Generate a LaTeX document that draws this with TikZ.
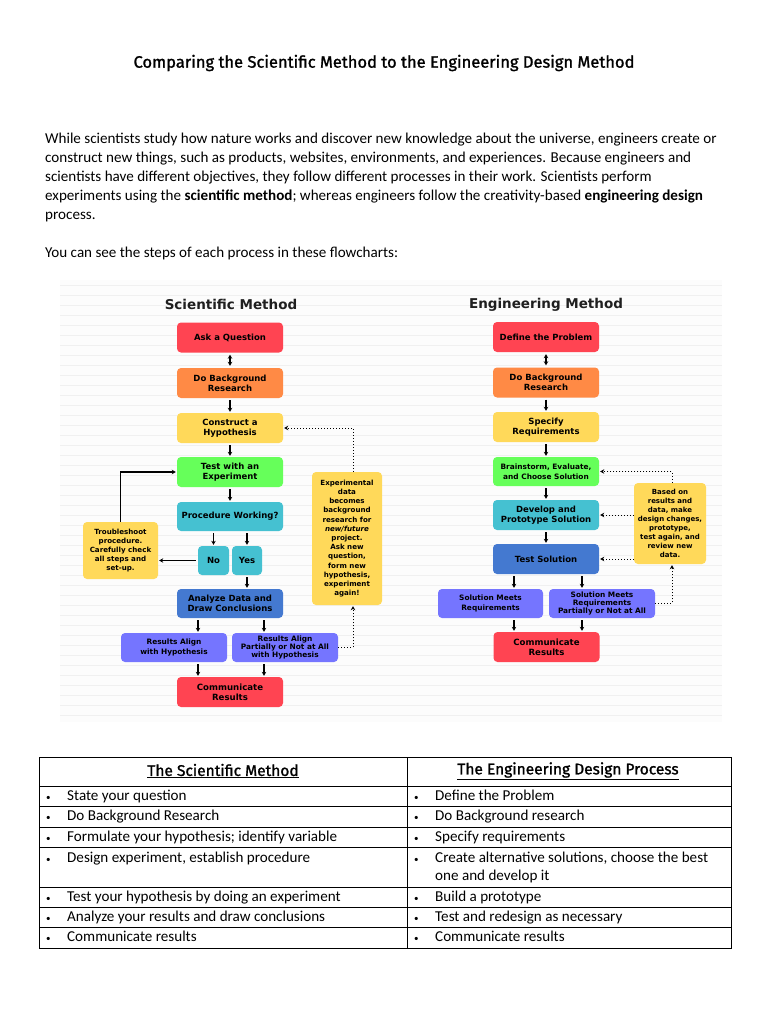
\documentclass[tikz,border=0pt]{standalone}
\usepackage{fontspec}
\setmainfont{Carlito}
\newfontfamily\verd{DejaVu Sans}
\newfontfamily\hand[FakeBold=1.3]{Fira Sans}
\usetikzlibrary{arrows.meta}
\definecolor{cred}{HTML}{FF4452}
\definecolor{corange}{HTML}{FF8A45}
\definecolor{cyellow}{HTML}{FFD95A}
\definecolor{cgreen}{HTML}{66FF5A}
\definecolor{cteal}{HTML}{45C1D1}
\definecolor{cblue}{HTML}{4479D0}
\definecolor{cpurple}{HTML}{7575FF}
\definecolor{bgline}{HTML}{F0F0F0}
\definecolor{bgfill}{HTML}{FCFCFC}
\tikzset{
  box/.style={rounded corners=4pt, align=center, inner sep=1pt, text=black,
    font=\verd\bfseries\fontsize{8.5}{10}\selectfont},
  big/.style={font=\verd\bfseries\fontsize{8.5}{10}\selectfont},
  small/.style={font=\verd\bfseries\fontsize{7.4}{8.1}\selectfont},
  tiny/.style={font=\verd\bfseries\fontsize{7.1}{9.2}\selectfont},
  wh/.style 2 args={minimum width=#1, minimum height=#2},
  arr/.style={line width=1.1pt, -{Stealth[length=4pt,width=4.5pt]}, shorten <=2pt, shorten >=1pt},
  darr/.style={line width=1.1pt, {Stealth[length=4pt,width=4.5pt]}-{Stealth[length=4pt,width=4.5pt]}, shorten <=2pt, shorten >=2pt},
  dots/.style={line width=1pt, dotted, -{Stealth[length=4pt,width=4.5pt]}, shorten >=1pt},
  para/.style={anchor=base west, inner sep=0pt, font=\fontsize{15.1}{17}\selectfont},
  cell/.style={anchor=base west, inner sep=0pt, font=\fontsize{15.1}{17}\selectfont},
  head/.style={inner sep=0pt, font=\verd\bfseries\fontsize{13.5}{15}\selectfont, text=black!88},
}
\begin{document}
\begin{tikzpicture}[x=1pt,y=-1pt]
\useasboundingbox[fill=white] (0,0) rectangle (768,1024);
% title
\node[inner sep=0pt, font=\hand\fontsize{16.5}{20}\selectfont] (title) at (384,63) {Comparing the Scientific Method to the Engineering Design Method};
% paragraph
\node[para] (p1) at (45,144) {While scientists study how nature works and discover new knowledge about the universe, engineers create or};
\node[para] (p2) at (45,163) {construct new things, such as products, websites, environments, and experiences. Because engineers and};
\node[para] (p3) at (45,182) {scientists have different objectives, they follow different processes in their work. Scientists perform};
\node[para] (p4) at (45,201) {experiments using the \textbf{scientific method}; whereas engineers follow the creativity-based \textbf{engineering design}};
\node[para] (p5) at (45,220) {process.};
\node[para] (p6) at (45,258) {You can see the steps of each process in these flowcharts:};
% flowchart background
\fill[bgfill] (60,280) rectangle (722,722);
\foreach \yy in {285,295,...,715} \draw[bgline, line width=0.6pt] (60,\yy) -- (722,\yy);
% ---------- Scientific method ----------
\node[head] (hs) at (231,304) {Scientific Method};
\node[box, fill=cred, wh={106}{30}] (ask) at (230,337.5) {Ask a Question};
\node[box, fill=corange, wh={106}{30}] (bg) at (230,383) {Do Background\\Research};
\node[box, fill=cyellow, wh={106}{30}] (hyp) at (230,428) {Construct a\\Hypothesis};
\node[box, fill=cgreen, wh={106}{30}] (test) at (230,472) {Test with an\\Experiment};
\node[box, big, fill=cteal, wh={106}{29}] (proc) at (230,516.5) {Procedure Working?};
\node[box, big, fill=cteal, wh={31}{29}] (no) at (213.5,560.5) {No};
\node[box, big, fill=cteal, wh={30}{29}] (yes) at (247,560.5) {Yes};
\node[box, tiny, fill=cyellow, wh={75}{57}] (trouble) at (120.5,550.5) {Troubleshoot\\procedure.\\Carefully check\\all steps and\\set-up.};
\node[box, big, fill=cblue, wh={106}{29}] (ana) at (230,603.5) {Analyze Data and\\Draw Conclusions};
\node[box, small, fill=cpurple, wh={106}{29}, font=\verd\bfseries\fontsize{7.4}{9.5}\selectfont] (ra) at (174,647.5) {Results Align\\with Hypothesis};
\node[box, small, fill=cpurple, wh={106}{29}] (rp) at (285,647.5) {Results Align\\Partially or Not at All\\with Hypothesis};
\node[box, big, fill=cred, wh={106}{30}, font=\verd\bfseries\fontsize{8.6}{10.3}\selectfont] (comm) at (230,692) {Communicate\\Results};
\node[box, tiny, fill=cyellow, wh={70}{133}] (exp) at (347,538.5) {Experimental\\data\\becomes\\background\\research for\\\textit{new/future}\\project.\\Ask new\\question,\\form new\\hypothesis,\\experiment\\again!};
\draw[darr] (ask) -- (bg);
\draw[arr] (bg) -- (hyp);
\draw[arr] (hyp) -- (test);
\draw[arr] (test) -- (proc);
\draw[arr] (no.north |- proc.south) -- (no.north);
\draw[arr] (yes.north |- proc.south) -- (yes.north);
\draw[arr] (no.west) -- (no.west -| trouble.east);
\draw[line width=1.1pt, -{Stealth[length=4pt,width=4.5pt]}, shorten >=1pt] (trouble.north) |- (test.west);
\draw[arr] (yes.south) -- (yes.south |- ana.north);
\draw[arr] ([xshift=-32pt]ana.south) -- ([xshift=-32pt]ana.south |- ra.north);
\draw[arr] ([xshift=34pt]ana.south) -- ([xshift=34pt]ana.south |- rp.north);
\draw[arr] ([xshift=-32pt]ana.south |- ra.south) -- ([xshift=-32pt]ana.south |- comm.north);
\draw[arr] ([xshift=34pt]ana.south |- rp.south) -- ([xshift=34pt]ana.south |- comm.north);
\draw[dots] (rp.east) -| ([xshift=6pt]exp.south);
\draw[dots] ([xshift=6pt]exp.north) |- (hyp.east);
% ---------- Engineering method ----------
\node[head] (he) at (546,305) {Engineering Method};
\node[box, fill=cred, wh={106}{30}] (def) at (546,337) {Define the Problem};
\node[box, fill=corange, wh={106}{30}] (bg2) at (546,382.5) {Do Background\\Research};
\node[box, fill=cyellow, wh={106}{30}] (spec) at (546,427) {Specify\\Requirements};
\node[box, small, fill=cgreen, wh={106}{29}, font=\verd\bfseries\fontsize{7.4}{9.5}\selectfont] (brain) at (546,471.5) {Brainstorm, Evaluate,\\and Choose Solution};
\node[box, big, fill=cteal, wh={106}{30}] (dev) at (546,515) {Develop and\\Prototype Solution};
\node[box, fill=cblue, wh={106}{30}] (ts) at (546,559) {Test Solution};
\node[box, small, fill=cpurple, wh={105}{29}, font=\verd\bfseries\fontsize{7.4}{9.5}\selectfont] (meets) at (490.5,603.5) {Solution Meets\\Requirements};
\node[box, small, fill=cpurple, wh={106}{29}] (mp) at (602,603.5) {Solution Meets\\Requirements\\Partially or Not at All};
\node[box, big, fill=cred, wh={106}{30}, font=\verd\bfseries\fontsize{8.6}{10.3}\selectfont] (comm2) at (546.5,647) {Communicate\\Results};
\node[box, tiny, fill=cyellow, wh={72}{81}, font=\verd\bfseries\fontsize{7}{9}\selectfont] (based) at (670,523.5) {Based on\\results and\\data, make\\design changes,\\prototype,\\test again, and\\review new\\data.};
\draw[darr] (def) -- (bg2);
\draw[arr] (bg2) -- (spec);
\draw[arr] (spec) -- (brain);
\draw[arr] (brain) -- (dev);
\draw[arr] (dev) -- (ts);
\draw[arr] ([xshift=-32pt]ts.south) -- ([xshift=-32pt]ts.south |- meets.north);
\draw[arr] ([xshift=36pt]ts.south) -- ([xshift=36pt]ts.south |- mp.north);
\draw[arr] ([xshift=-32pt]ts.south |- meets.south) -- ([xshift=-32pt]ts.south |- comm2.north);
\draw[arr] ([xshift=36pt]ts.south |- mp.south) -- ([xshift=36pt]ts.south |- comm2.north);
\draw[dots] (mp.east) -| ([xshift=2pt]based.south);
\draw[dots] ([xshift=2pt]based.north) |- (brain.east);
\draw[dots] (based.west |- dev.east) -- (dev.east);
\draw[dots] (based.west |- ts.east) -- (ts.east);
% ---------- Table ----------
\draw[line width=0.8pt] (39,757) rectangle (731,948);
\draw[line width=0.6pt] (407,757) -- (407,948);
\foreach \yy in {786,806,827,847,887,907,927} \draw[line width=0.6pt] (39,\yy) -- (731,\yy);
\node[inner sep=0pt, font=\hand\fontsize{15.5}{17}\selectfont] (th1) at (223,771) {\underline{The Scientific Method}};
\node[inner sep=0pt, font=\hand\fontsize{15.5}{17}\selectfont] (th2) at (568,771) {\underline{The Engineering Design Process}};
\foreach \yy/\txt [count=\i] in {800.5/State your question, 820.5/Do Background Research, 841.5/{Formulate your hypothesis; identify variable}, 862.5/{Design experiment, establish procedure}, 901.5/Test your hypothesis by doing an experiment, 921.5/Analyze your results and draw conclusions, 941.5/Communicate results}
  {\node[cell] (lb\i) at (46,\yy) {\small•}; \node[cell] (lt\i) at (67,\yy) {\txt};}
\foreach \yy/\txt [count=\i] in {800.5/Define the Problem, 820.5/Do Background research, 841.5/Specify requirements, 862.5/{Create alternative solutions, choose the best}, 880.5/one and develop it, 901.5/Build a prototype, 921.5/Test and redesign as necessary, 941.5/Communicate results}
  {\node[cell] (rt\i) at (435,\yy) {\txt};}
\foreach \yy [count=\i] in {800.5,820.5,841.5,862.5,901.5,921.5,941.5} \node[cell] (rb\i) at (414,\yy) {\small•};
\end{tikzpicture}
\end{document}
